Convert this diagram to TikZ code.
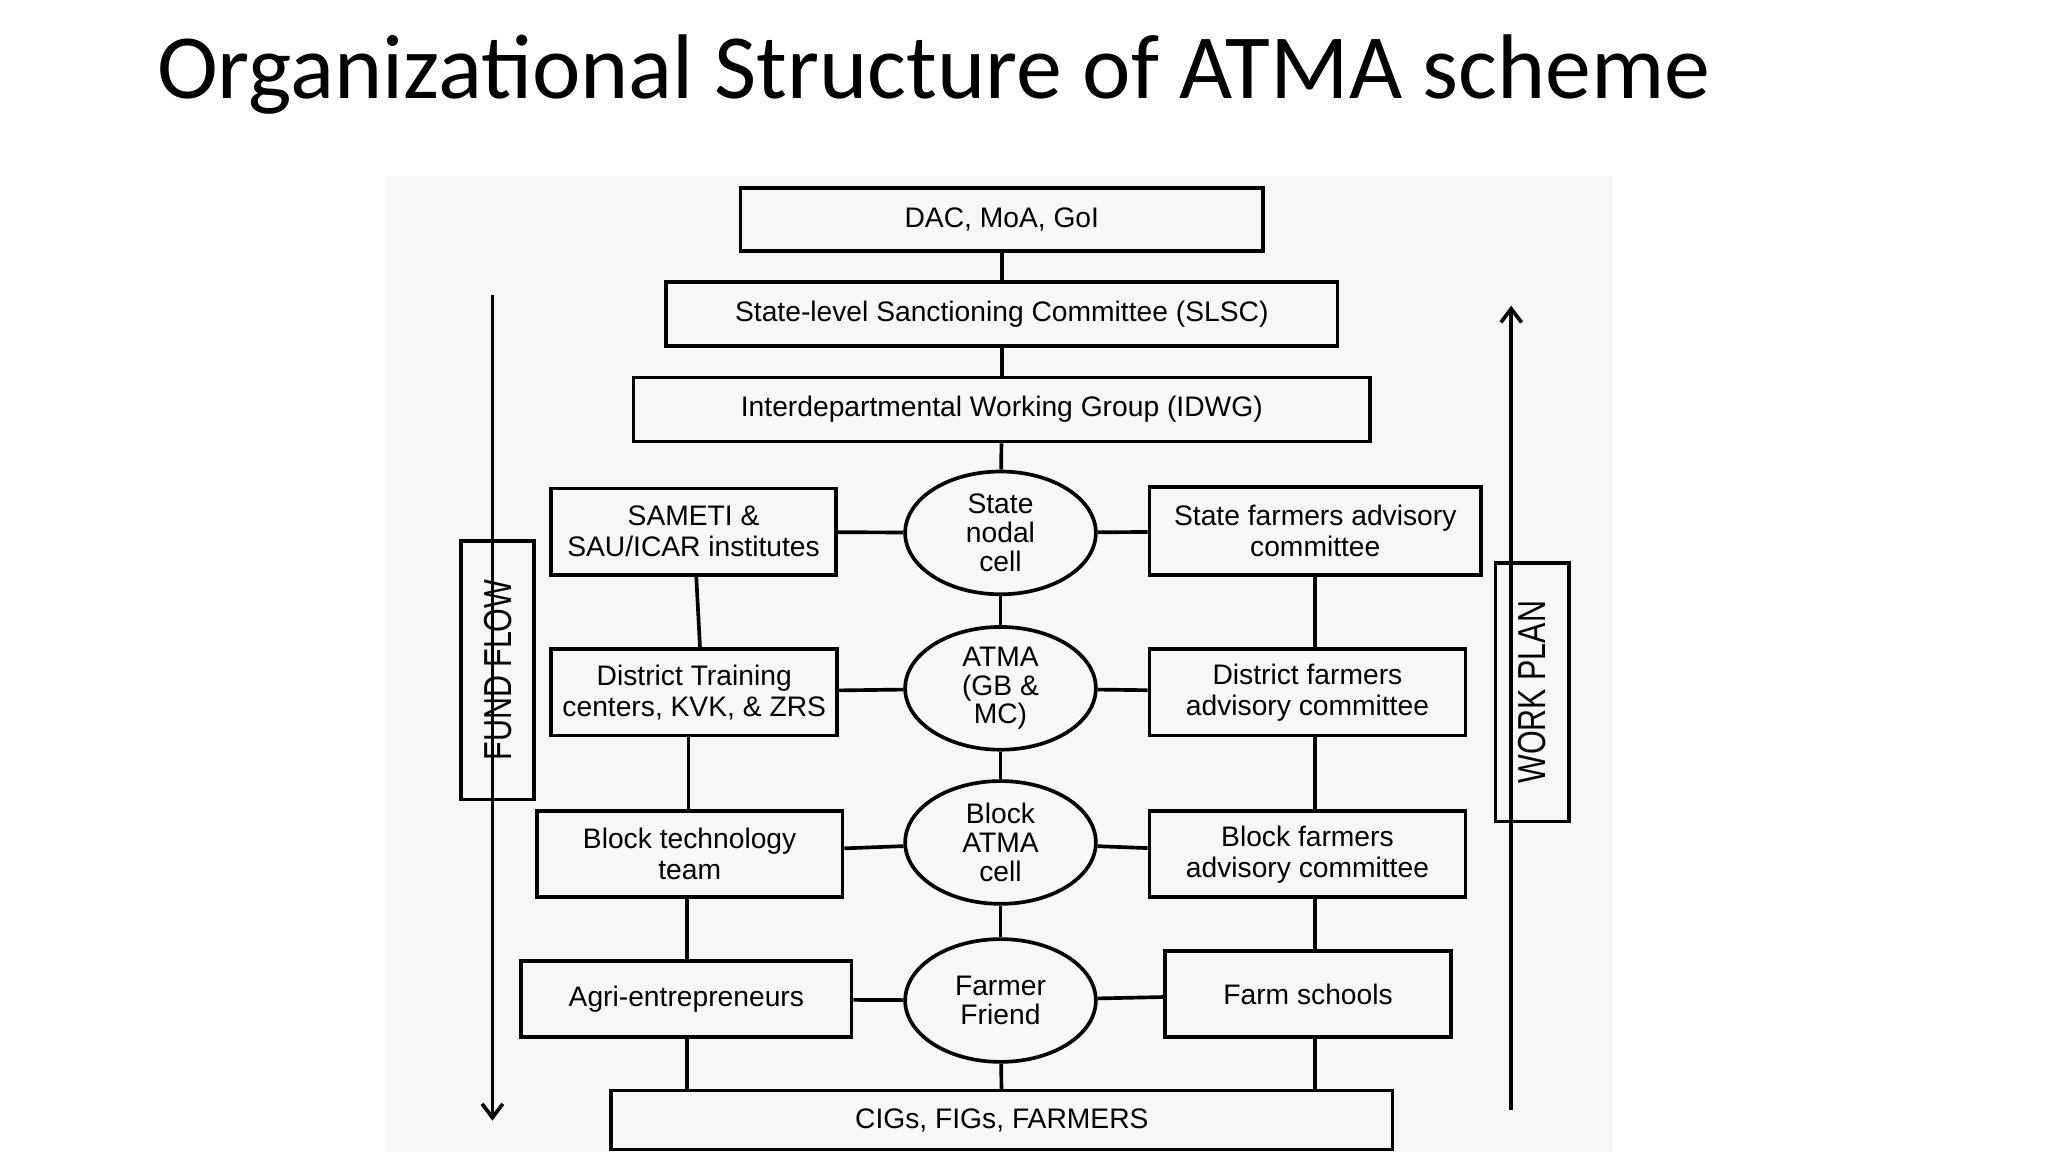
\documentclass[tikz,border=0pt]{standalone}
\usepackage{fontspec}
\setmainfont{Liberation Sans}
\newfontfamily\titlefont{Carlito}
\usetikzlibrary{shapes.geometric,arrows.meta}
\begin{document}
\begin{tikzpicture}[x=0.02cm,y=-0.02cm,
  bx/.style={draw,line width=1.6pt,rectangle,inner sep=0pt,align=center,font=\fontsize{12.3}{13.5}\selectfont},
  el/.style={draw,line width=1.6pt,ellipse,minimum width=146*0.02cm,minimum height=94*0.02cm,inner sep=0pt,align=center,font=\fontsize{12.3}{12.5}\selectfont},
  ln/.style={line width=1.6pt}]
\useasboundingbox[fill=white] (0,0) rectangle (1568,882);
\fill[gray!6] (295,135) rectangle (1235,882);
\node[anchor=west,font=\titlefont\fontsize{40}{46}\selectfont] (title) at (114,57) {Organizational Structure of ATMA scheme};
\newcommand\bxat[6]{\node[bx,minimum width=(#4-#3)*0.02cm,minimum height=(#6-#5)*0.02cm] (#1) at ({(#3+#4)/2},{(#5+#6)/2}) {#2};}
\bxat{dac}{DAC, MoA, GoI}{567}{967}{144}{192}
\bxat{slsc}{State-level Sanctioning Committee (SLSC)}{510}{1024}{216}{265}
\bxat{idwg}{Interdepartmental Working Group (IDWG)}{485}{1049}{289}{338}
\bxat{sam}{SAMETI \&\\SAU/ICAR institutes}{422}{640}{374}{440}
\bxat{sfa}{State farmers advisory\\committee}{880}{1134}{373}{440}
\bxat{dtc}{District Training\\centers, KVK, \& ZRS}{422}{641}{497}{563}
\bxat{dfa}{District farmers\\advisory committee}{880}{1122}{497}{563}
\bxat{btt}{Block technology\\team}{411}{645}{621}{687}
\bxat{bfa}{Block farmers\\advisory committee}{880}{1122}{621}{687}
\bxat{agri}{Agri-entrepreneurs}{399}{652}{736}{794}
\bxat{fs}{Farm schools}{892}{1111}{728}{794}
\bxat{cig}{CIGs, FIGs, FARMERS}{468}{1066}{835}{880}
\bxat{ff}{}{353}{409}{414}{612}
\bxat{wp}{}{1145}{1201}{431}{629}
\node[rotate=90,xscale=0.78,transform shape,font=\fontsize{17}{18}\selectfont] (fft) at (ff) {FUND FLOW};
\node[rotate=90,xscale=0.78,transform shape,font=\fontsize{17}{18}\selectfont] (wpt) at (wp) {WORK PLAN};
\node[el] (snc) at (766,408) {State\\nodal\\cell};
\node[el] (atma) at (766,527) {ATMA\\(GB \&\\MC)};
\node[el] (bac) at (766,645) {Block\\ATMA\\cell};
\node[el] (frf) at (766,766) {Farmer\\Friend};
\draw[ln] (dac) -- (slsc); \draw[ln] (slsc) -- (idwg); \draw[ln] (idwg) -- (snc);
\draw[ln] (snc) -- (atma); \draw[ln] (atma) -- (bac); \draw[ln] (bac) -- (frf); \draw[ln] (frf) -- (cig);
\foreach \l/\e/\r in {sam/snc/sfa,dtc/atma/dfa,btt/bac/bfa,agri/frf/fs}{
  \draw[ln] (\l) -- (\e); \draw[ln] (\e) -- (\r);}
\draw[ln] (533,440) -- (536,497);
\draw[ln] (527,563) -- (527,621);
\draw[ln] (526,687) -- (526,736);
\draw[ln] (526,794) -- (526,835);
\draw[ln] (1007,440) -- (1007,497);
\draw[ln] (1007,563) -- (1007,621);
\draw[ln] (1007,687) -- (1007,728);
\draw[ln] (1007,794) -- (1007,835);
\coordinate (fa) at (377,226); \coordinate (fb) at (377,858);
\coordinate (wa) at (1157,850); \coordinate (wb) at (1157,234);
\draw[ln,-{Straight Barb[length=6pt,width=9pt]}] (fa) -- (fb);
\draw[ln,-{Straight Barb[length=6pt,width=9pt]}] (wa) -- (wb);
\end{tikzpicture}
\end{document}
